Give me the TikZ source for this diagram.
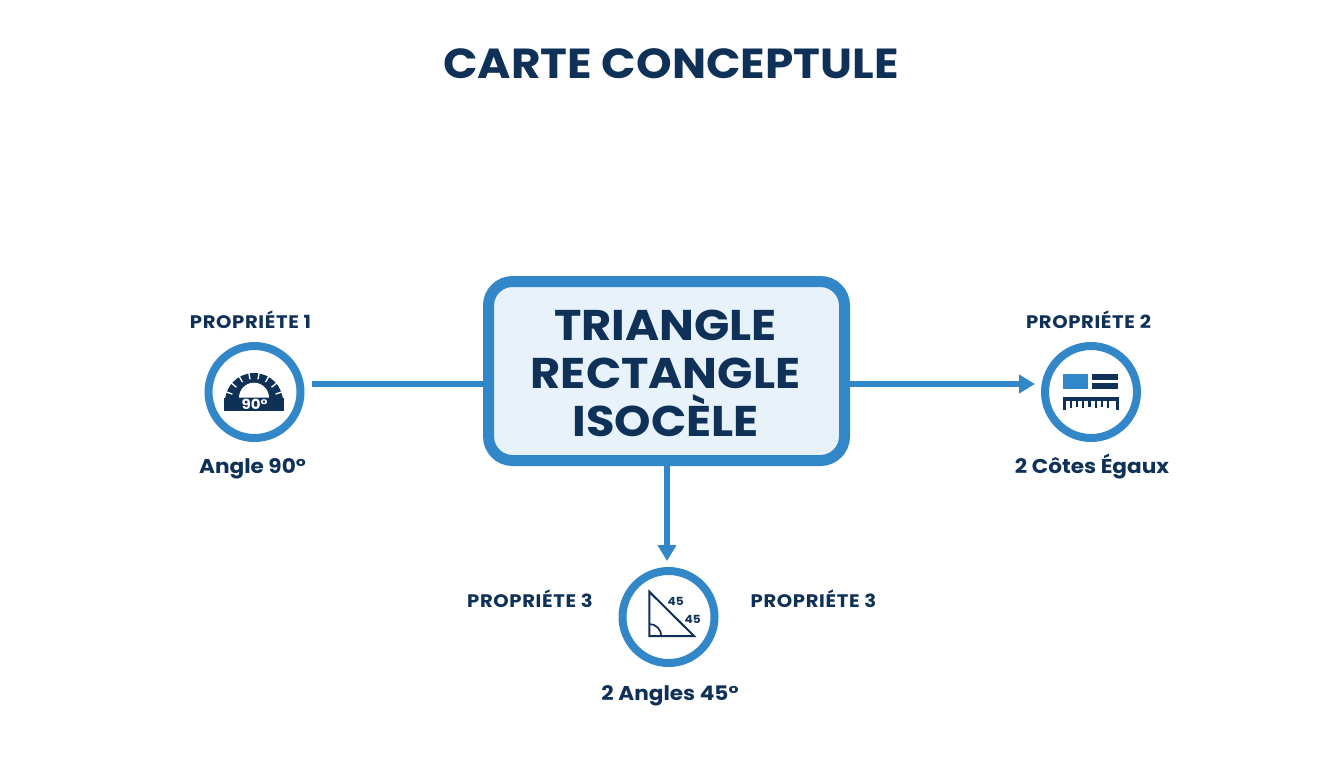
\documentclass[tikz,border=0pt]{standalone}
\usepackage{fontspec}
\setmainfont{Poppins}
\newfontfamily\wideface[FakeStretch=1.08]{Poppins}
\newfontfamily\spacedface[FakeStretch=1.08,LetterSpace=3.5]{Poppins}
\usetikzlibrary{arrows.meta,calc}
\definecolor{navy}{RGB}{15,48,87}
\definecolor{bluering}{RGB}{50,135,200}
\definecolor{boxfill}{RGB}{231,242,250}
\tikzset{every picture/.style={line width=0.75pt}}
\tikzset{
	centerbox/.style={draw=bluering,line width=8.25pt,fill=boxfill,rounded corners=18pt,minimum width=267pt,minimum height=134.25pt,inner sep=0pt},
	boxlabel/.style={inner sep=0pt,align=center,text=navy,font=\wideface\fontsize{32.2}{36}\selectfont\bfseries},
	propring/.style={circle,draw=bluering,line width=6pt,fill=white,minimum size=69pt,inner sep=0pt},
	proptitle/.style={anchor=base,inner sep=0.75pt,text=navy,font=\spacedface\fontsize{13.6}{15}\selectfont\bfseries},
	propname/.style={anchor=base,inner sep=0.75pt,text=navy,font=\wideface\fontsize{15}{17}\selectfont\bfseries},
	link/.style={draw=bluering,line width=4.2pt},
	linkarrow/.style={link,-{Triangle[length=12pt,width=13.5pt]}}
}
\begin{document}
\begin{tikzpicture}[x=0.75pt,y=0.75pt,yscale=-1]
		\useasboundingbox (0,0) rectangle (1344,768);
		
		% Text Node
		\node (title) at (671,78) [anchor=base,inner sep=0.75pt,text=navy,font=\wideface\fontsize{31.5}{36}\selectfont\bfseries] {CARTE CONCEPTULE};
		
		% Central box
		\node (box) at (666.5,371) [centerbox] {};
		\node (boxtext) at (665.5,373) [boxlabel] {TRIANGLE\\RECTANGLE\\ISOCÈLE};
		
		% Rings
		\node (ringa) at (254.5,392) [propring] {};
		\node (ringb) at (1091,392) [propring] {};
		\node (ringc) at (668.5,617) [propring] {};
		
		% Connectors
		\coordinate (linka) at (312,384);
		\coordinate (linkb) at (1035,384);
		\coordinate (linkc) at (667,561);
		\draw [link] (linka) -- (box.west |- linka);
		\draw [linkarrow] (box.east |- linkb) -- (linkb);
		\draw [linkarrow] (box.south -| linkc) -- (linkc);
		
		% Text Node
		\node (titlea) at (250.5,328) [proptitle] {PROPRIÉTE 1};
		\node (namea) at (252.5,473) [propname] {Angle 90°};
		\node (titleb) at (1088.5,328) [proptitle] {PROPRIÉTE 2};
		\node (nameb) at (1092,473) [propname] {2 Côtes Égaux};
		\node (titlec) at (530,607.5) [proptitle] {PROPRIÉTE 3};
		\node (titled) at (813.5,607.5) [proptitle] {PROPRIÉTE 3};
		\node (namec) at (670,700) [propname] {2 Angles 45°};
		
		% Protractor icon
		\fill [navy] (225,402) arc (180:360:29) -- cycle;
		\fill [navy] (224,397.7) rectangle (283.5,411);
		\fill [white] (239,397.7) arc (180:360:15) -- cycle;
		\foreach \tickangle in {20,40,60,80,100,120,140,160}
			\draw [white,line width=1pt] ($(254,402)+(\tickangle:-23)$) -- ($(254,402)+(\tickangle:-29.5)$);
		\node (degree) at (254.5,404.5) [inner sep=0pt,text=white,font=\wideface\fontsize{10.4}{11}\selectfont\bfseries] {90°};
		
		% Sides icon
		\fill [bluering] (1063.3,374) rectangle (1088.3,389.3);
		\fill [navy] (1091.7,374) rectangle (1117.7,380);
		\fill [navy] (1091.7,383.3) rectangle (1117.7,389.3);
		\fill [navy] (1062.5,396.7) rectangle (1119,400.5);
		\foreach \tickx/\ticklen in {1071/408,1077/407,1083/408,1089.5/407,1096/408,1102/407,1108/408}
			\draw [navy,line width=1.8pt] (\tickx,399) -- (\tickx,\ticklen);
		\fill [navy] (1062.5,399) rectangle (1066,410);
		\fill [navy] (1115.5,399) rectangle (1119,410);
		
		% Triangle icon
		\draw [navy,line width=1.5pt,line join=miter] (649.3,591.7) -- (649.3,636) -- (694,636) -- cycle;
		\draw [navy,line width=1.3pt] (649.3,624) arc (270:360:12);
		\node (anglea) at (675.7,601.7) [inner sep=0pt,text=navy,font=\wideface\fontsize{8.4}{9}\selectfont\bfseries] {45};
		\node (angleb) at (692.7,619.3) [inner sep=0pt,text=navy,font=\wideface\fontsize{8.4}{9}\selectfont\bfseries] {45};
	\end{tikzpicture}
\end{document}
